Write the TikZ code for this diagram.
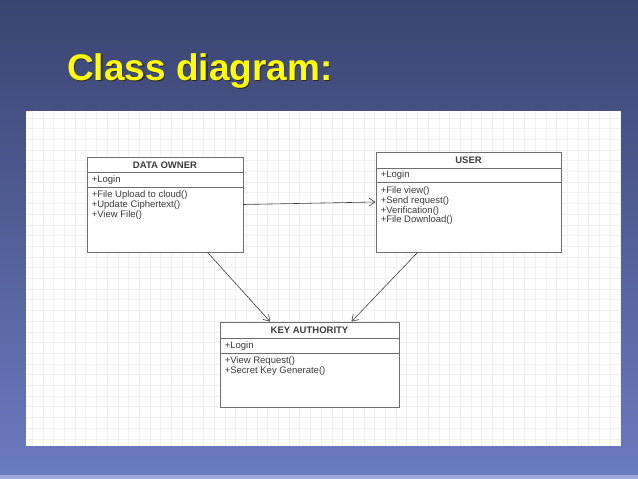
\documentclass[tikz,border=0pt]{standalone}
\usepackage{fontspec}
\setmainfont{Liberation Sans}
\usepackage{tikz}
\usetikzlibrary{positioning}
\usetikzlibrary{arrows.meta}
\usetikzlibrary{calc}

\definecolor{slidetop}{HTML}{3A4471}
\definecolor{slidebot}{HTML}{6B7BC0}
\definecolor{slidestrip}{HTML}{9CAAE0}
\definecolor{titleyellow}{HTML}{FFFF00}
\definecolor{titleedge}{HTML}{2B2A1E}
\definecolor{boxline}{HTML}{6E6E6E}
\definecolor{boxtext}{HTML}{3C3C3C}

\tikzset{
  classbox/.style={draw=boxline, line width=0.9pt, fill=white, inner sep=0pt},
  classname/.style={font=\fontsize{9.5}{10}\selectfont\bfseries, text=boxtext, inner sep=0pt, text height=6.8pt, text depth=2pt},
  member/.style={font=\fontsize{9.5}{10}\selectfont, text=boxtext, anchor=west, inner sep=0pt, text height=6.8pt, text depth=2pt},
  divider/.style={draw=boxline, line width=0.8pt},
  assoc/.style={draw=black!75, line width=0.6pt, -{Straight Barb[length=6pt,width=8pt]}},
  titletext/.style={font=\fontsize{37}{40}\selectfont\bfseries, inner sep=0pt, anchor=base west}
}

\begin{document}
\begin{tikzpicture}[x=1pt, y=-1pt]

  %slide
  \shade[top color=slidetop, bottom color=slidebot] (0,0) rectangle (638,479);
  \fill[slidestrip] (0,475) rectangle (638,479);
  \fill[white] (26,111) rectangle (621,446);
  \draw[black!6, line width=0.4pt, step=10.7pt] (26,111) grid (621,446);

  %title
  \node[titletext, text=titleedge] (titleshadow) at (68.3,81.3) {Class diagram:};
  \node[titletext, text=titleyellow] (title) at (67,80) {Class diagram:};

  %data owner
  \node[classbox, minimum width=156pt, minimum height=95pt] (owner) at (165,204.5) {};
  \node[classname] (ownername) at ($(owner.north)+(0,9.5)$) {DATA OWNER};
  \draw[divider] ($(owner.north west)+(0,16)$) -- ($(owner.north east)+(0,16)$);
  \draw[divider] ($(owner.north west)+(0,31)$) -- ($(owner.north east)+(0,31)$);
  \node[member] (ownerlogin) at ($(owner.north west)+(5,24)$) {+Login};
    \foreach \i/\txt in {0/+File Upload to cloud(),1/+Update Ciphertext(),2/+View File()}{
      \node[member] (ownerm\i) at ($(owner.north west)+(5,39+10*\i)$) {\txt};
    }

  %user
  \node[classbox, minimum width=185pt, minimum height=100pt] (user) at (468.5,202) {};
  \node[classname] (username) at ($(user.north)+(0,9.5)$) {USER};
  \draw[divider] ($(user.north west)+(0,17)$) -- ($(user.north east)+(0,17)$);
  \draw[divider] ($(user.north west)+(0,31)$) -- ($(user.north east)+(0,31)$);
  \node[member] (userlogin) at ($(user.north west)+(5,24)$) {+Login};
    \foreach \i/\txt in {0/+File view(),1/+Send request(),2/+Verification(),3/+File Download()}{
      \node[member] (userm\i) at ($(user.north west)+(5,39.5+9.8*\i)$) {\txt};
    }

  %key authority
  \node[classbox, minimum width=179pt, minimum height=85pt] (ka) at (309.5,364.5) {};
  \node[classname] (kaname) at ($(ka.north)+(0,9.5)$) {KEY AUTHORITY};
  \draw[divider] ($(ka.north west)+(0,17)$) -- ($(ka.north east)+(0,17)$);
  \draw[divider] ($(ka.north west)+(0,32)$) -- ($(ka.north east)+(0,32)$);
  \node[member] (kalogin) at ($(ka.north west)+(5,25)$) {+Login};
    \foreach \i/\txt in {0/+View Request(),1/+Secret Key Generate()}{
      \node[member] (kam\i) at ($(ka.north west)+(5,40+9.8*\i)$) {\txt};
    }

  %associations
  \draw[assoc] (owner.east) -- (user.west);
  \draw[assoc] ([xshift=121pt]owner.south west) -- ([xshift=50.5pt]ka.north west);
  \draw[assoc] ([xshift=42pt]user.south west) -- ([xshift=132pt]ka.north west);

\end{tikzpicture}
\end{document}
